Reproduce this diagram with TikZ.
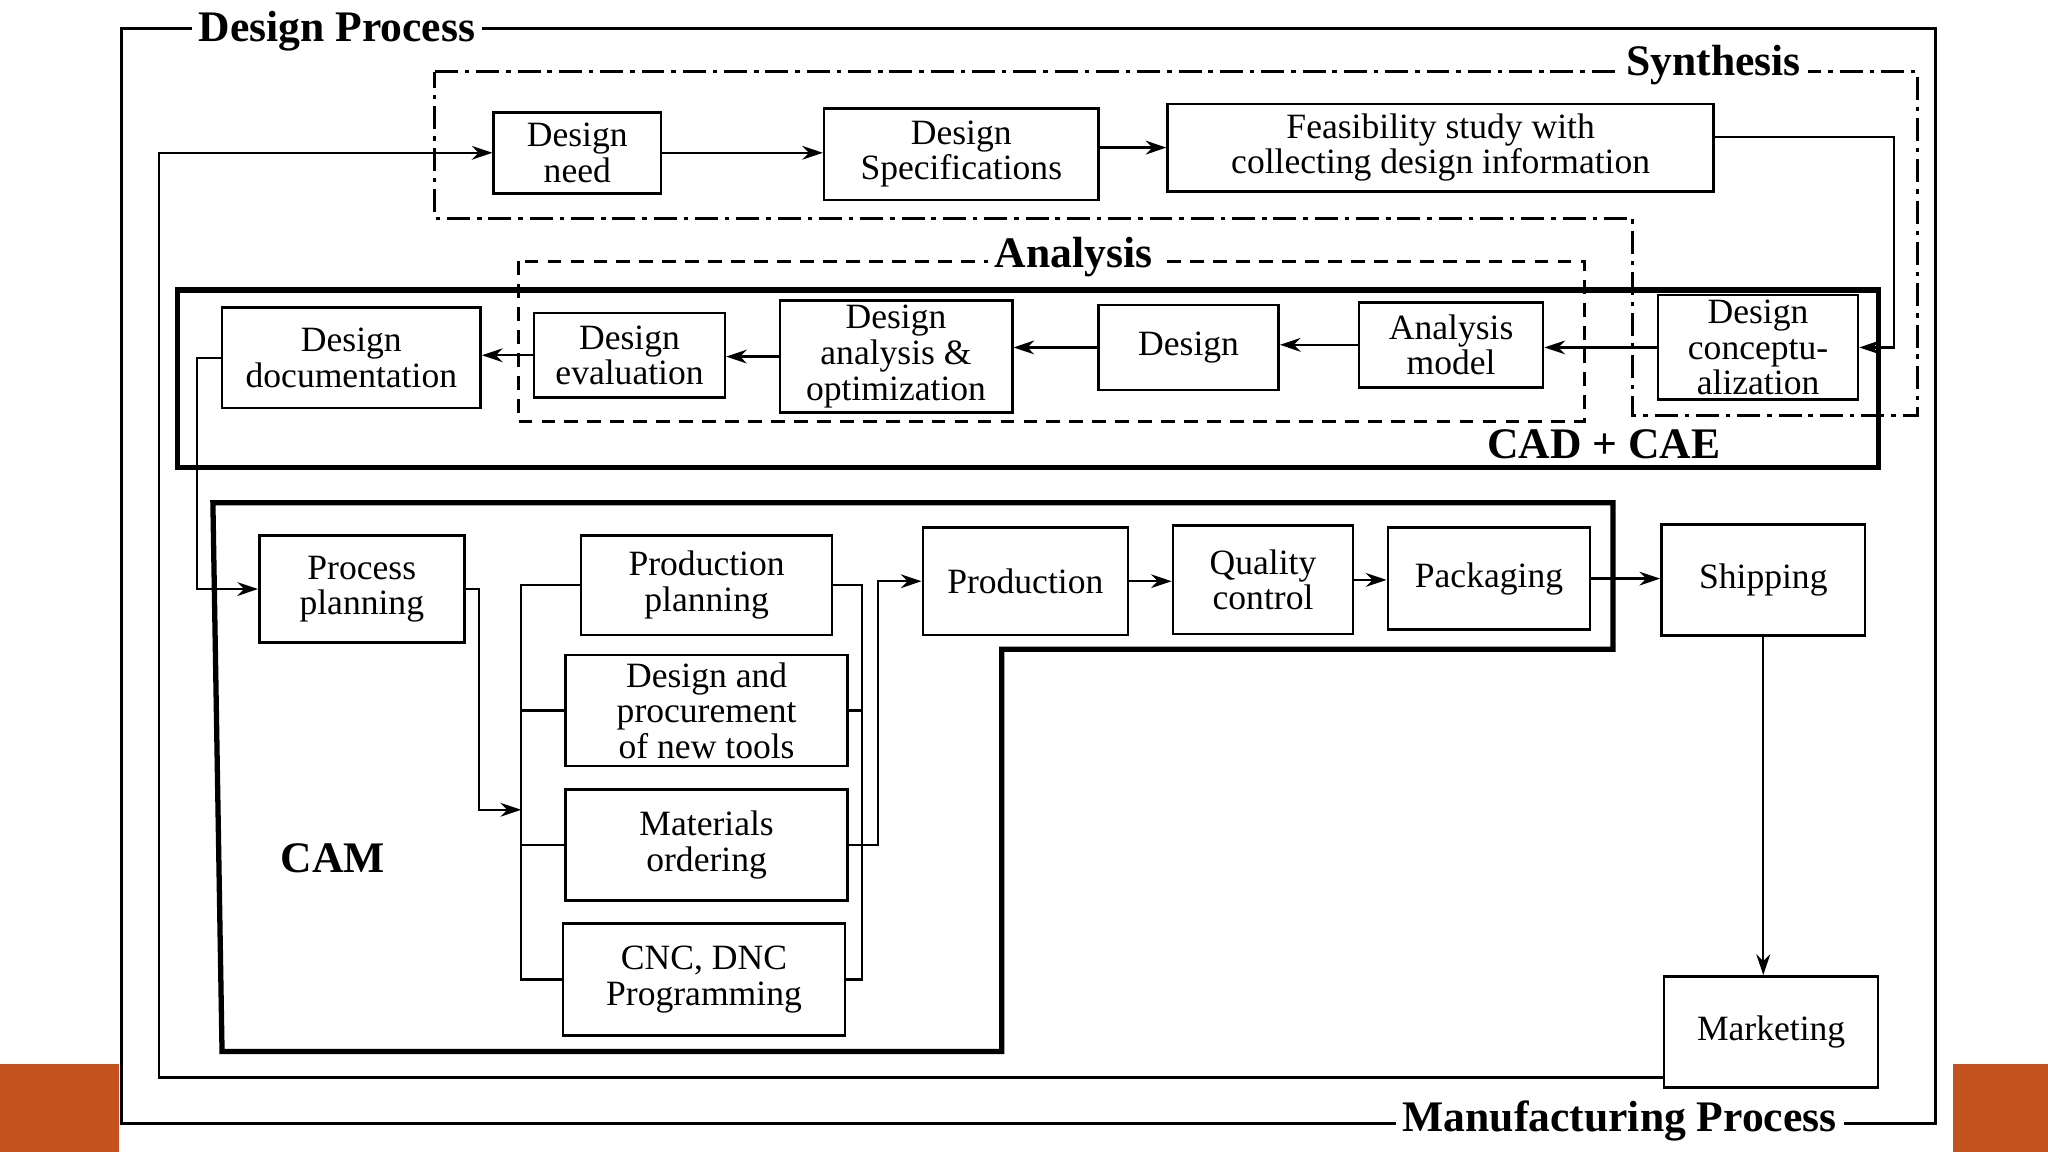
\documentclass[tikz,border=0pt]{standalone}
\usepackage{fontspec}
\setmainfont{Liberation Serif}
\usetikzlibrary{arrows.meta}
\def\u{0.2mm}
\tikzset{
  blk/.style={draw, line width=1.1pt, align=center, inner sep=0pt,
    font=\fontsize{15.5}{15.5}\selectfont},
  lbl/.style={fill=white, inner sep=3pt, font=\fontsize{19}{20}\selectfont\bfseries},
  con/.style={line width=1pt, -{Stealth[length=9pt,width=6pt]}},
  ln/.style={line width=1pt},
  heavy/.style={line width=2.3pt},
}
\definecolor{rust}{RGB}{196,82,30}
\begin{document}
\begin{tikzpicture}[x=0.2mm, y=-0.2mm]
\useasboundingbox (0,0) rectangle (1568,882);
\fill[rust] (0,815) rectangle (91,882);
\fill[rust] (1495,815) rectangle (1568,882);
% frames
\draw[line width=1.4pt] (93,22) rectangle (1482,860);
\draw[line width=1.3pt, dash pattern=on 10pt off 3pt on 2pt off 3pt]
  (333,55) -- (1468,55) -- (1468,318) -- (1250,318) -- (1250,167) -- (333,167) -- cycle;
\draw[line width=1.3pt, dash pattern=on 6pt off 4pt] (397,200) rectangle (1213,323);
\draw[heavy] (136,222) rectangle (1438,358);
\draw[heavy] (163,385) -- (1235,385) -- (1235,497) -- (767,497) -- (767,805) -- (170,805) -- cycle;
\node[lbl] (dp) at (258,24) {Design Process};
\node[lbl] (mp) at (1240,858) {Manufacturing Process};
\node[lbl] (syn) at (1312,50) {Synthesis};
\node[lbl] (ana) at (822,197) {Analysis};
\node[lbl, fill=none] (cae) at (1228,340) {CAD + CAE};
\node[lbl, fill=none] (cam) at (255,657) {CAM};
% blocks
\node[blk, minimum width=128*\u, minimum height=62*\u] (need) at (442,117) {Design\\need};
\node[blk, minimum width=210*\u, minimum height=70*\u] (spec) at (736,118) {Design\\Specifications};
\node[blk, minimum width=418*\u, minimum height=67*\u] (feas) at (1103,113) {Feasibility study with\\collecting design information};
\node[blk, minimum width=198*\u, minimum height=77*\u] (doc) at (269,274) {Design\\documentation};
\node[blk, minimum width=146*\u, minimum height=65*\u] (eval) at (482,272) {Design\\evaluation};
\node[blk, minimum width=178*\u, minimum height=86*\u] (dao) at (686,273) {Design\\analysis \&\\optimization};
\node[blk, minimum width=138*\u, minimum height=65*\u] (des) at (910,266) {Design};
\node[blk, minimum width=141*\u, minimum height=65*\u] (am) at (1111,264) {Analysis\\model};
\node[blk, minimum width=153*\u, minimum height=80*\u] (conc) at (1346,266) {Design\\conceptu-\\alization};
\node[blk, minimum width=157*\u, minimum height=82*\u] (pp) at (277,451) {Process\\planning};
\node[blk, minimum width=192*\u, minimum height=76*\u] (prodpl) at (541,448) {Production\\planning};
\node[blk, minimum width=216*\u, minimum height=85*\u] (tools) at (541,544) {Design and\\procurement\\of new tools};
\node[blk, minimum width=216*\u, minimum height=85*\u] (mat) at (541,647) {Materials\\ordering};
\node[blk, minimum width=216*\u, minimum height=86*\u] (cnc) at (539,750) {CNC, DNC\\Programming};
\node[blk, minimum width=157*\u, minimum height=82*\u] (prod) at (785,445) {Production};
\node[blk, minimum width=138*\u, minimum height=83*\u] (qc) at (967,444) {Quality\\control};
\node[blk, minimum width=155*\u, minimum height=78*\u] (pack) at (1140,443) {Packaging};
\node[blk, minimum width=156*\u, minimum height=85*\u] (ship) at (1350,444) {Shipping};
\node[blk, minimum width=164*\u, minimum height=85*\u] (mkt) at (1356,790) {Marketing};
% connectors
\coordinate (fb) at (122,825);
\coordinate (fr) at (1450,105);
\coordinate (lt) at (399,450);
\coordinate (lb) at (399,750);
\coordinate (lm) at (399,620);
\coordinate (rb) at (660,750);
\draw[con] (fb -| mkt.west) -- (fb) |- (need.west);
\draw[con] (need) -- (need -| spec.west);
\draw[con] (spec.east |- feas) -- (feas.west);
\draw[con] (feas.east |- fr) -- (fr) |- (conc.east);
\draw[con] (conc.west) -- (conc.west -| am.east);
\draw[con] (am.west) -- (am.west -| des.east);
\draw[con] (des.west) -- (des.west -| dao.east);
\draw[con] (dao.west) -- (dao.west -| eval.east);
\draw[con] (eval) -- (eval -| doc.east);
\draw[con] (doc.west) -- ++(-18,0) |- (pp.west);
\draw[con] (pp.east) -- ++(10,0) |- (lm);
\draw[ln] (prodpl.west) -| (lb) -- (cnc.west);
\draw[ln] (tools.west) -- (tools.west -| lt);
\draw[ln] (mat.west) -- (mat.west -| lt);
\draw[ln] (prodpl.east) -| (rb) -- (cnc.east);
\draw[ln] (tools.east) -- (tools.east -| rb);
\draw[con] (mat.east) -- (mat.east -| rb) -- ++(12,0) |- (prod.west);
\draw[con] (prod) -- (prod -| qc.west);
\draw[con] (qc) -- (qc -| pack.west);
\draw[con] (pack) -- (pack -| ship.west);
\draw[con] (ship.south) -- (ship.south |- mkt.north);
\end{tikzpicture}
\end{document}
